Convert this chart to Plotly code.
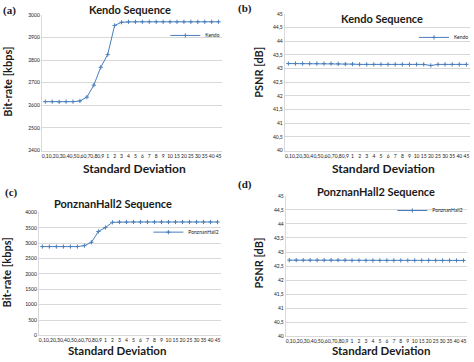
import plotly.graph_objects as go

categories = ["0,1", "0,2", "0,3", "0,4", "0,5", "0,6", "0,7", "0,8", "0,9", "1", "2", "3", "4", "5",
              "6", "7", "8", "9", "10", "15", "20", "25", "30", "35", "40", "45"]

kendo_bitrate = [2616, 2616, 2615, 2616, 2616, 2619, 2636, 2689, 2768, 2824, 2953, 2967, 2969, 2969,
                 2969, 2969, 2969, 2969, 2969, 2969, 2969, 2969, 2969, 2969, 2969, 2969]
kendo_psnr = [43.18, 43.18, 43.18, 43.18, 43.18, 43.18, 43.18, 43.17, 43.16, 43.16, 43.15, 43.15, 43.15,
              43.15, 43.15, 43.15, 43.15, 43.15, 43.15, 43.15, 43.11, 43.15, 43.15, 43.15, 43.15, 43.15]
poz_bitrate = [2890, 2890, 2890, 2890, 2890, 2890, 2920, 3030, 3380, 3510, 3680, 3690, 3690, 3690,
               3690, 3690, 3690, 3690, 3690, 3690, 3690, 3690, 3690, 3690, 3690, 3690]
poz_psnr = [42.71, 42.71, 42.71, 42.71, 42.71, 42.71, 42.71, 42.71, 42.71, 42.70, 42.70, 42.70, 42.70,
            42.70, 42.70, 42.70, 42.70, 42.70, 42.70, 42.70, 42.70, 42.70, 42.70, 42.70, 42.70, 42.70]

W, H = 474, 362
LINE = "#4a7ebb"
GRID = "#d9d9d9"
TXT = "#1a1a1a"
FONT = "Lato"


def px(x):
    return x / W


def py(y):
    return 1 - y / H


fig = go.Figure()

panels = [
    (kendo_bitrate, "Kendo", "x", "y", "legend"),
    (kendo_psnr, "Kendo", "x2", "y2", "legend2"),
    (poz_bitrate, "PonznanHall2", "x3", "y3", "legend3"),
    (poz_psnr, "PonznanHall2", "x4", "y4", "legend4"),
]

for vals, name, xa, ya, lg in panels:
    fig.add_trace(go.Scatter(
        x=categories, y=vals, name=name, mode="lines+markers",
        line=dict(color=LINE, width=1),
        marker=dict(symbol="cross-thin", size=3, color=LINE, line=dict(width=1, color=LINE)),
        xaxis=xa, yaxis=ya, legend=lg, showlegend=True,
    ))

doms = {
    1: dict(x=(42, 223), y=(12, 150), yr=(2400, 3000), dt=100),
    2: dict(x=(286, 472), y=(11, 150), yr=(40, 45), dt=0.5),
    3: dict(x=(39, 222), y=(213, 338), yr=(0, 4000), dt=500),
    4: dict(x=(287, 469), y=(196, 339), yr=(40, 45), dt=0.5),
}

layout_axes = {}
for i, d in doms.items():
    sfx = "" if i == 1 else str(i)
    layout_axes["xaxis" + sfx] = dict(
        domain=[px(d["x"][0]), px(d["x"][1])], type="category",
        anchor="y" + sfx, range=[-0.5, 25.5],
        tickmode="array", tickvals=categories, ticktext=categories,
        tickangle=0, tickfont=dict(size=5, family=FONT, color=TXT),
        showgrid=False, showline=True, linecolor=GRID, linewidth=1,
        ticks="", ticklen=0, zeroline=False, fixedrange=True,
    )
    layout_axes["yaxis" + sfx] = dict(
        domain=[py(d["y"][1]), py(d["y"][0])], anchor="x" + sfx,
        range=list(d["yr"]), dtick=d["dt"], tick0=d["yr"][0],
        tickfont=dict(size=5, family=FONT, color=TXT),
        showgrid=True, gridcolor=GRID, gridwidth=1,
        showline=True, linecolor=GRID, linewidth=1,
        zeroline=False, ticks="", fixedrange=True,
    )

legend_common = dict(font=dict(size=5, family=FONT, color=TXT), bgcolor="rgba(0,0,0,0)",
                     borderwidth=0, xanchor="left", yanchor="middle", itemwidth=30,
                     tracegroupgap=0)

fig.update_layout(
    width=W, height=H,
    margin=dict(l=0, r=0, t=0, b=0),
    paper_bgcolor="white", plot_bgcolor="white",
    separators=",.",
    font=dict(family=FONT, color=TXT),
    legend=dict(x=px(166), y=py(33), **legend_common),
    legend2=dict(x=px(416), y=py(35), **legend_common),
    legend3=dict(x=px(149), y=py(233), **legend_common),
    legend4=dict(x=px(394), y=py(211), **legend_common),
    **layout_axes,
)

annots = [
    ("Kendo Sequence", 131, 7, 11, 0, FONT),
    ("Kendo Sequence", 384, 16, 11, 0, FONT),
    ("PonznanHall2 Sequence", 113, 204, 11, 0, FONT),
    ("PonznanHall2 Sequence", 378, 192, 11, 0, FONT),
    ("Standard Deviation", 135, 168, 12, 0, FONT),
    ("Standard Deviation", 385, 168, 12, 0, FONT),
    ("Standard Deviation", 117, 353, 11.5, 0, FONT),
    ("Standard Deviation", 383, 353, 11.5, 0, FONT),
    ("Bit-rate [kbps]", 8, 80, 11, -90, FONT),
    ("PSNR [dB]", 260, 70, 11, -90, FONT),
    ("Bit-rate [kbps]", 6, 274, 11, -90, FONT),
    ("PSNR [dB]", 260, 264, 11, -90, FONT),
    ("(a)", 10, 8, 11, 0, "Liberation Serif"),
    ("(b)", 246, 6, 11, 0, "Liberation Serif"),
    ("(c)", 12, 193, 11, 0, "Liberation Serif"),
    ("(d)", 246, 185, 11, 0, "Liberation Serif"),
]

for text, x, y, size, ang, fam in annots:
    fig.add_annotation(
        text=f"<b>{text}</b>",
        x=px(x), y=py(y), xref="paper", yref="paper",
        xanchor="center", yanchor="middle", showarrow=False, textangle=ang,
        font=dict(size=size, family=fam, color=TXT),
    )

fig.write_html("out.html", config={"displayModeBar": False},
               post_script="document.body.style.margin='0';")
